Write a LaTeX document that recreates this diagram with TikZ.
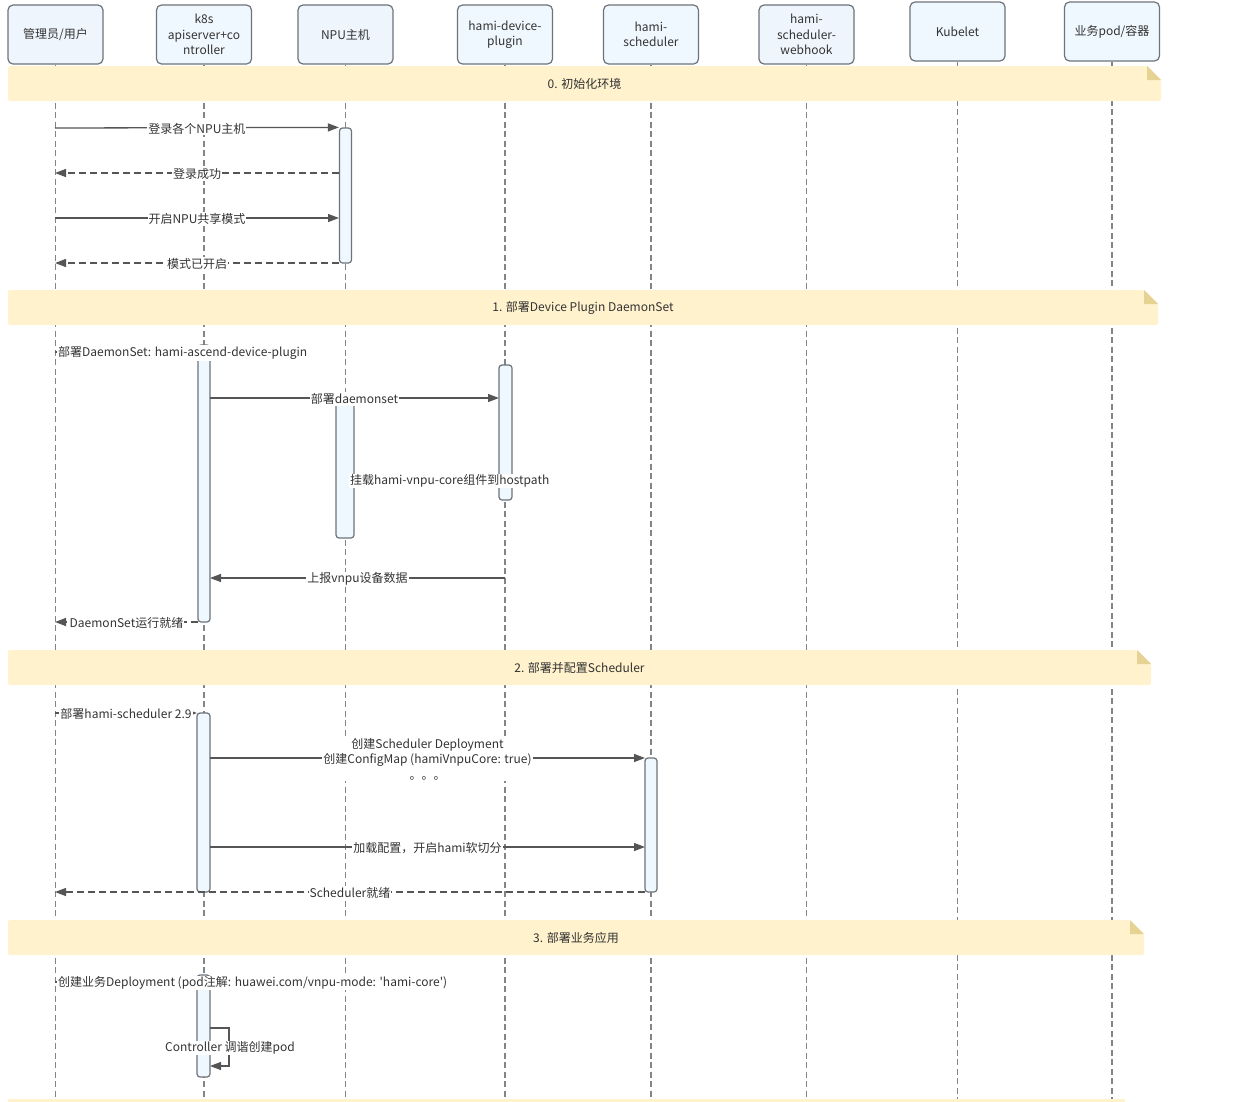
\documentclass[tikz,border=0pt]{standalone}
\usepackage{fontspec}
\setmainfont{Noto Sans CJK SC}[Ligatures=TeXOff]
\usetikzlibrary{arrows.meta}

\definecolor{txtgray}{HTML}{333333}
\definecolor{boxline}{HTML}{6D7379}
\definecolor{actorfill}{HTML}{EFF5FD}
\definecolor{actfill}{HTML}{F0F8FF}
\definecolor{msggray}{HTML}{555555}
\definecolor{lifegray}{HTML}{7F858A}
\definecolor{bandfill}{HTML}{FFF2CC}
\definecolor{foldfill}{HTML}{E6D393}

% phase band: name, top, right end, text
\newcommand*{\phase}[4]{%
  \fill[bandfill,rounded corners=2pt] (8,#2) -- ({#3-14},#2) -- (#3,{#2+14}) -- (#3,{#2+35}) -- (8,{#2+35}) -- cycle;
  \fill[foldfill] ({#3-14},#2) -- ({#3-14},{#2+14}) -- (#3,{#2+14}) -- cycle;
  \node (#1) at ({(8+#3)/2},{#2+17.5}) {#4};
}

\begin{document}
\begin{tikzpicture}
[
	x=1pt,
	y=-1pt,
	every node/.style={font=\fontsize{12}{15.5}\selectfont,text=txtgray},
	actor/.style={draw=boxline,line width=1.2pt,rounded corners=5pt,fill=actorfill,minimum width=95pt,minimum height=59pt,align=center,inner sep=2pt},
	lifeline/.style={draw=lifegray,line width=1.1pt,dash pattern=on 6pt off 3.5pt},
	active/.style={draw=boxline,line width=1.2pt,rounded corners=3pt,fill=actfill,minimum width=12pt,inner sep=0pt},
	msg/.style={draw=msggray,line width=1.3pt,-{Triangle[length=11pt,width=8pt]}},
	reply/.style={msg,dash pattern=on 7pt off 4pt},
	lbl/.style={fill=white,inner sep=1pt,yshift=-1pt}
]
	\useasboundingbox (0,0) rectangle (1242,1101);

	% participants
	\node[actor] (adm) at (55.5,34.5) {管理员/用户};
	\node[actor,fill=actfill] (k8s) at (204,34.5) {k8s\\apiserver+co\\ntroller};
	\node[actor] (npu) at (345.5,34.5) {NPU主机};
	\node[actor,fill=actfill] (dp) at (505,34.5) {hami-device-\\plugin};
	\node[actor,fill=actfill] (sch) at (651,34.5) {hami-\\scheduler};
	\node[actor] (wh) at (806.5,34.5) {hami-\\scheduler-\\webhook};
	\node[actor,fill=actfill] (kub) at (957.5,31.5) {Kubelet};
	\node[actor,fill=actfill] (pod) at (1112,31.5) {业务pod/容器};

	% lifelines
	\foreach \n in {adm,k8s,npu,dp,sch,wh,kub,pod}{
		\coordinate (\n-end) at (\n.south |- 0,1101);
		\draw[lifeline] (\n) -- (\n-end);
	}

	% phase bands
	\phase{ph0}{66}{1161}{0. 初始化环境}
	\phase{ph1}{290}{1158}{1. 部署Device Plugin DaemonSet}
	\phase{ph2}{650}{1151}{2. 部署并配置Scheduler}
	\phase{ph3}{920}{1144}{3. 部署业务应用}
	\fill[bandfill] (8,1099) rectangle (1125,1110);

	% activations
	\node[active,minimum height=135pt] (npuA) at (345.5,195.5) {};
	\node[active,minimum height=277pt] (k8sA) at (204,483.5) {};
	\node[active,minimum width=18pt,minimum height=135pt] (npuB) at (345,470.5) {};
	\node[active,minimum width=13pt,minimum height=135pt] (dpA) at (505.5,432.5) {};
	\node[active,minimum width=13pt,minimum height=179pt] (k8sB) at (203.5,802.5) {};
	\node[active,minimum height=134pt] (schA) at (651,825) {};
	\node[active,minimum width=13pt,minimum height=102pt] (k8sC) at (203.5,1026) {};

	% 0. init
	\coordinate (a1) at (55,128);
	\coordinate (a2) at (55,173);
	\coordinate (n2) at (339,173);
	\coordinate (a3) at (55,218);
	\coordinate (n3) at (339,218);
	\coordinate (a4) at (55,263);
	\coordinate (n4) at (339,263);
	\draw[msg] (a1) -- (npuA.north west) node[lbl,midway] {登录各个NPU主机};
	\draw[reply] (n2) -- (a2) node[lbl,midway] {登录成功};
	\draw[msg] (a3) -- (n3) node[lbl,midway] {开启NPU共享模式};
	\draw[reply] (n4) -- (a4) node[lbl,midway] {模式已开启};

	% 1. device plugin
	\coordinate (a5) at (55,352);
	\coordinate (k5) at (198,352);
	\coordinate (k6) at (210,398);
	\coordinate (d6) at (499,398);
	\coordinate (d7) at (499,480);
	\coordinate (n7) at (354,480);
	\coordinate (d8) at (505,578);
	\coordinate (k8) at (210,578);
	\coordinate (k9) at (198,622);
	\coordinate (a9) at (55,622);
	\draw[msg] (a5) -- (k5);
	\node[lbl,anchor=west] (l5) at (57,352) {部署DaemonSet: hami-ascend-device-plugin};
	\draw[msg] (k6) -- (d6) node[lbl,midway] {部署daemonset};
	\draw[msg] (d7) -- (n7) node[lbl,pos=0.34] {挂载hami-vnpu-core组件到hostpath};
	\draw[msg] (d8) -- (k8) node[lbl,midway] {上报vnpu设备数据};
	\draw[reply] (k9) -- (a9) node[lbl,midway] {DaemonSet运行就绪};

	% 2. scheduler
	\coordinate (a10) at (55,713);
	\coordinate (k10) at (197,713);
	\coordinate (k11) at (210,758);
	\coordinate (s11) at (645,758);
	\coordinate (k12) at (210,847);
	\coordinate (s12) at (645,847);
	\coordinate (s13) at (645,892);
	\coordinate (a13) at (55,892);
	\draw[msg] (a10) -- (k10) node[lbl,midway] {部署hami-scheduler 2.9};
	\draw[msg] (k11) -- (s11) node[lbl,midway,align=center] {创建Scheduler Deployment\\创建ConfigMap (hamiVnpuCore: true)\\。。。};
	\draw[msg] (k12) -- (s12) node[lbl,midway] {加载配置，开启hami软切分};
	\draw[reply] (s13) -- (a13) node[lbl,midway] {Scheduler就绪};

	% 3. workload
	\coordinate (a14) at (55,982);
	\coordinate (k14) at (197,982);
	\coordinate (c1) at (210,1028);
	\coordinate (c2) at (210,1066);
	\draw[msg] (a14) -- (k14);
	\node[lbl,anchor=west] (l14) at (57,982) {创建业务Deployment (pod注解: huawei.com/vnpu-mode: 'hami-core')};
	\draw[msg] (c1) -- ++(19,0) |- (c2);
	\node[lbl] (l15) at (230,1047) {Controller 调谐创建pod};

\end{tikzpicture}
\end{document}
